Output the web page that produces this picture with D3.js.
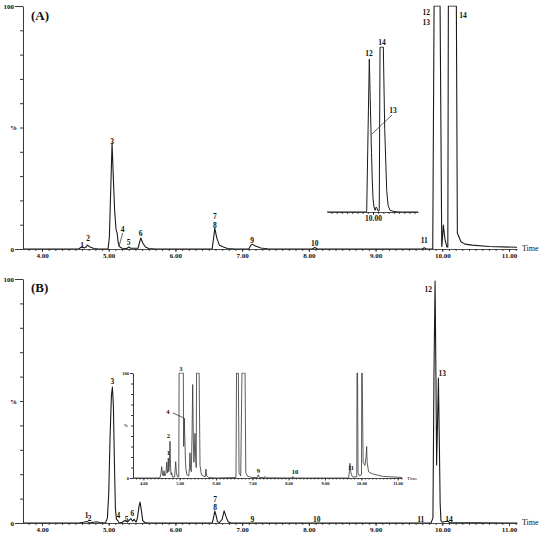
<!DOCTYPE html>
<html>
<head>
<meta charset="utf-8">
<script src="https://cdn.jsdelivr.net/npm/d3@7"></script>
<style>
  body { margin: 0; background: #fff; }
  svg text { font-family: "Liberation Serif", "DejaVu Serif", serif; fill: #111; }
</style>
</head>
<body>
<svg id="chart" width="550" height="535"></svg>
<script>
// retention time window (min) shared by the main plots and the panel B inset
const timeDomain = [3.715, 11.12];
const insetATime = [9.115, 10.865];
const majorTimes = [4, 5, 6, 7, 8, 9, 10, 11];

// chromatogram traces as [time, relative abundance %]
const traceA = [
  [3.715,0],[4.55,0],[4.58,0.6],[4.60,1.0],[4.63,0.4],[4.66,0.8],[4.68,1.6],[4.72,0.8],[4.78,0.2],[4.85,0],
  [4.99,0],[5.01,5],[5.05,43.6],[5.075,25],[5.09,15],[5.11,8],[5.125,6.6],[5.14,3],[5.155,1.2],[5.17,0.8],[5.2,0.3],
  [5.27,0.2],[5.30,0.8],[5.33,0.3],[5.44,0.3],[5.46,2.5],[5.48,4.5],[5.51,2.5],[5.55,0.8],[5.6,0.2],[5.7,0],
  [6.55,0],[6.57,4],[6.59,8.6],[6.62,4.5],[6.66,1.5],[6.72,0.8],[6.78,0.2],[6.9,0],
  [7.10,0],[7.13,1.5],[7.15,2.0],[7.2,1.2],[7.28,0.4],[7.4,0],
  [8.05,0],[8.09,0.6],[8.13,0],[9.70,0],[9.73,0.5],[9.76,0],
  [9.857,0],[9.877,100],[9.967,100],[9.992,1],[9.997,2],[10.016,9.9],[10.04,4],[10.07,0.8],
  [10.083,0.8],[10.091,100],[10.211,100],[10.226,6.6],[10.28,3],[10.34,2],[10.45,1.6],[10.7,1],[11.12,0.7]
];
const traceB = [
  [3.715,0],[4.55,0],[4.62,0.3],[4.67,0.6],[4.70,0.3],[4.75,0.2],[4.82,0.5],[4.86,0.2],[4.95,0],
  [4.98,2],[5.00,12],[5.02,35],[5.04,52],[5.055,55.7],[5.07,48],[5.085,25],[5.10,6],[5.115,1.5],
  [5.13,1.2],[5.15,0.3],[5.2,0.2],[5.25,1.2],[5.28,0.4],[5.33,1.8],[5.36,0.8],[5.38,1.5],[5.41,0.4],
  [5.43,2],[5.455,7],[5.47,8.6],[5.49,5],[5.51,1],[5.54,0.2],[5.6,0],
  [6.55,0],[6.57,2],[6.59,4.9],[6.61,3],[6.63,0.5],[6.66,0.2],[6.70,1.5],[6.73,5],[6.76,2.5],[6.79,0.5],[6.83,0],
  [9.83,0],[9.86,2],[9.875,60],[9.892,99.2],[9.905,60],[9.915,23.8],[9.928,40],[9.942,59.4],[9.955,35],
  [9.968,8],[9.98,1],[10.0,0.3],[10.08,0.8],[10.11,0.2],[11.12,0]
];
const traceInsetA = [
  [9.115,0],[9.87,0],[9.879,1],[9.905,50],[9.929,92.7],[9.945,70],[9.962,48],[9.965,42],[9.971,36],
  [9.985,20],[10.0,8],[10.019,3],[10.04,1],[10.06,3],[10.08,2],[10.10,0.5],[10.115,0.5],[10.12,2],
  [10.135,100],[10.198,100],[10.225,50],[10.263,13],[10.29,4],[10.327,1],[10.4,0.3],[10.5,0],[10.865,0]
];
const traceInsetB = [
  [3.715,0],[4.45,0],[4.48,3],[4.505,10.8],[4.53,3],[4.55,2],[4.568,7],[4.59,2],[4.62,4],[4.643,15],
  [4.66,5],[4.675,8],[4.687,19],[4.70,6],[4.715,10],[4.733,35],[4.75,10],[4.765,3],[4.78,5],[4.80,1],
  [4.86,1],[4.875,8],[4.89,15.6],[4.91,5],[4.94,1],[4.975,1],[4.985,100],[5.10,100],[5.11,30],[5.12,45],
  [5.127,57],[5.14,40],[5.16,15],[5.174,8],[5.2,3],[5.25,2],[5.27,10],[5.284,24],[5.30,8],[5.32,6],
  [5.34,40],[5.358,89],[5.375,40],[5.39,15],[5.405,25],[5.422,42.5],[5.44,20],[5.455,10],[5.465,100],
  [5.535,100],[5.56,12],[5.6,3],[5.7,1],[5.71,4],[5.724,8.5],[5.74,2],[5.8,0.5],[6.0,0],
  [6.55,0.5],[6.565,100],[6.615,100],[6.635,5],[6.68,2],[6.715,100],[6.80,100],[6.82,5],[6.87,1.5],
  [7.0,0.5],[7.14,0.5],[7.164,3],[7.19,0.5],[7.33,0.3],[7.348,1.5],[7.37,0.2],[8.09,0],[8.11,1.5],[8.13,0],
  [9.65,0],[9.67,6],[9.688,14],[9.71,6],[9.73,3],[9.76,1],[9.875,1],[9.882,100],[9.896,100],[9.91,5],
  [9.95,2],[10.005,3],[10.012,100],[10.024,100],[10.05,15],[10.10,12],[10.13,20],[10.147,30],[10.16,15],
  [10.2,6],[10.3,4],[10.423,3],[10.6,1.5],[10.872,1],[11.12,0.5]
];

// peak numbers: [label, time, abundance where the label sits]
const labelsA = [
  ["1",4.60,1.6],["2",4.69,4.5],["3",5.05,44.4],["4",5.21,8.2],["5",5.30,2.9],["6",5.48,6.6],
  ["7",6.59,13.4],["8",6.59,9.7],["9",7.15,3.7],["10",8.09,2.5],["11",9.73,3.7],
  ["12",9.76,97.4],["13",9.76,93.2],["14",10.31,96.3]
];
const labelsB = [
  ["1",4.67,3.0],["2",4.715,1.9],["3",5.054,57.9],["4",5.144,3.0],["5",5.27,1.6],["6",5.354,4.0],
  ["7",6.594,9.6],["8",6.594,6.2],["9",7.153,1.6],["10",8.118,1.6],["11",9.678,1.6],
  ["12",9.79,95.9],["13",10.0,61.4],["14",10.10,1.6]
];
const labelsInsetA = [["12",9.923,96.4],["14",10.173,103],["13",10.385,61.8]];
const labelsInsetB = [["3",5.036,103.8],["4",4.678,62.9],["2",4.687,40],["1",4.687,23.8],
  ["9",7.164,6.7],["10",8.174,5.7],["11",9.716,9.5]];
const leaderA = [[5.21,6.6],[5.155,1.2]];
const leaderInsetA = [[10.365,58.8],[9.98,47.3]];
const leaderInsetB = [[4.81,62],[5.119,57.1]];

const svg = d3.select("#chart");
svg.append("rect").attr("width", 550).attr("height", 535).attr("fill", "#fff");

const fmt = d3.format(".2f");

function drawPlot(o) {
  const x = d3.scaleLinear().domain(o.xDomain).range(o.xRange);
  const y = d3.scaleLinear().domain([0, 100]).range(o.yRange);
  const g = svg.append("g");

  // minor x ticks (dotted look) then labelled majors
  const minor = d3.range(Math.ceil(o.xDomain[0] * 10) / 10, o.xDomain[1], 0.1);
  g.append("g").attr("transform", `translate(0,${o.yRange[0]})`)
    .call(d3.axisBottom(x).tickValues(minor).tickSize(o.minorTick).tickFormat("").tickSizeOuter(0))
    .call(a => a.selectAll("path,line").attr("stroke", "#222").attr("stroke-width", 0.8));
  g.append("g").attr("transform", `translate(0,${o.yRange[0]})`)
    .call(d3.axisBottom(x).tickValues(o.majors).tickSize(o.minorTick + 1).tickPadding(1)
      .tickFormat(fmt).tickSizeOuter(0))
    .call(a => a.select(".domain").remove())
    .call(a => a.selectAll("line").attr("stroke", "#222").attr("stroke-width", 0.8))
    .call(a => a.selectAll("text").attr("font-size", o.tickFont).attr("font-weight", "bold")
      .attr("fill", "#111").style("font-family", "Liberation Serif"));

  if (o.yAxis) {
    g.append("g").attr("transform", `translate(${o.xRange[0]},0)`)
      .call(d3.axisLeft(y).tickValues(d3.range(0, 101, 10)).tickSize(o.yTick).tickSizeOuter(0)
        .tickFormat(d => d === 100 ? "100" : d === 0 ? "0" : d === 50 ? "%" : ""))
      .call(a => a.selectAll("path,line").attr("stroke", "#222").attr("stroke-width", 0.9))
      .call(a => a.selectAll(".tick").filter(d => d === 0 || d === 100).select("line")
        .attr("x2", -o.yTickLong))
      .call(a => a.selectAll("text").attr("font-size", o.tickFont).attr("font-weight", "bold")
        .attr("fill", "#111").style("font-family", "Liberation Serif"))
      .call(a => a.selectAll(".tick").filter(d => d === 0 || d === 100).select("text")
        .attr("x", -o.yTickLong - 1));
  }
  if (o.timeLabel) {
    g.append("text").attr("x", x(o.xDomain[1]) + 5).attr("y", o.yRange[0])
      .attr("dy", "0.3em").attr("font-size", o.timeFont).text("Time");
  }

  const clipId = "clip" + o.id;
  svg.append("clipPath").attr("id", clipId).append("rect")
    .attr("x", o.xRange[0]).attr("y", o.yRange[1] - 0.5)
    .attr("width", o.xRange[1] - o.xRange[0]).attr("height", o.yRange[0] - o.yRange[1] + 1);

  const line = d3.line().x(d => x(d[0])).y(d => y(d[1]));
  g.append("path").datum(o.trace)
    .attr("clip-path", `url(#${clipId})`)
    .attr("d", line).attr("fill", "none")
    .attr("stroke", o.stroke).attr("stroke-width", o.width).attr("stroke-linejoin", "round");

  g.selectAll("text.peak").data(o.labels).enter().append("text")
    .attr("class", "peak")
    .attr("x", d => x(d[1])).attr("y", d => y(d[2]))
    .attr("dy", "0.35em").attr("text-anchor", "middle")
    .attr("font-size", o.labelFont).attr("font-weight", "bold")
    .text(d => d[0]);

  (o.leaders || []).forEach(l => {
    g.append("path").attr("d", d3.line().x(d => x(d[0])).y(d => y(d[1]))(l))
      .attr("stroke", "#222").attr("stroke-width", 0.7).attr("fill", "none");
  });
  return { x, y };
}

// panel A
drawPlot({ id: "A", xDomain: timeDomain, xRange: [23, 517], yRange: [249, 6], majors: majorTimes,
  trace: traceA, labels: labelsA, leaders: [leaderA], yAxis: true, timeLabel: true,
  minorTick: 2, yTick: 3, yTickLong: 8, tickFont: 7, timeFont: 8, labelFont: 7.5, stroke: "#1a1a1a", width: 1.1 });
drawPlot({ id: "Ai", xDomain: insetATime, xRange: [327, 418], yRange: [212, 47], majors: [10],
  trace: traceInsetA, labels: labelsInsetA, leaders: [leaderInsetA], yAxis: false, timeLabel: false,
  minorTick: 2, yTick: 3, yTickLong: 6, tickFont: 7.5, labelFont: 7.5, stroke: "#1a1a1a", width: 1 });

// panel B
drawPlot({ id: "B", xDomain: timeDomain, xRange: [23, 517], yRange: [523, 279], majors: majorTimes,
  trace: traceB, labels: labelsB, leaders: [], yAxis: true, timeLabel: true,
  minorTick: 2, yTick: 3, yTickLong: 8, tickFont: 7, timeFont: 8, labelFont: 7.5, stroke: "#1a1a1a", width: 1.1 });
drawPlot({ id: "Bi", xDomain: timeDomain, xRange: [133, 402], yRange: [478, 373], majors: majorTimes,
  trace: traceInsetB, labels: labelsInsetB, leaders: [leaderInsetB], yAxis: true, timeLabel: true,
  minorTick: 1.5, yTick: 2, yTickLong: 3, tickFont: 4.5, timeFont: 5, labelFont: 6.5, stroke: "#333", width: 0.8 });

svg.append("text").attr("x", 31).attr("y", 20).attr("font-size", 13).attr("font-weight", "bold").text("(A)");
svg.append("text").attr("x", 31).attr("y", 292).attr("font-size", 13).attr("font-weight", "bold").text("(B)");
</script>
</body>
</html>
